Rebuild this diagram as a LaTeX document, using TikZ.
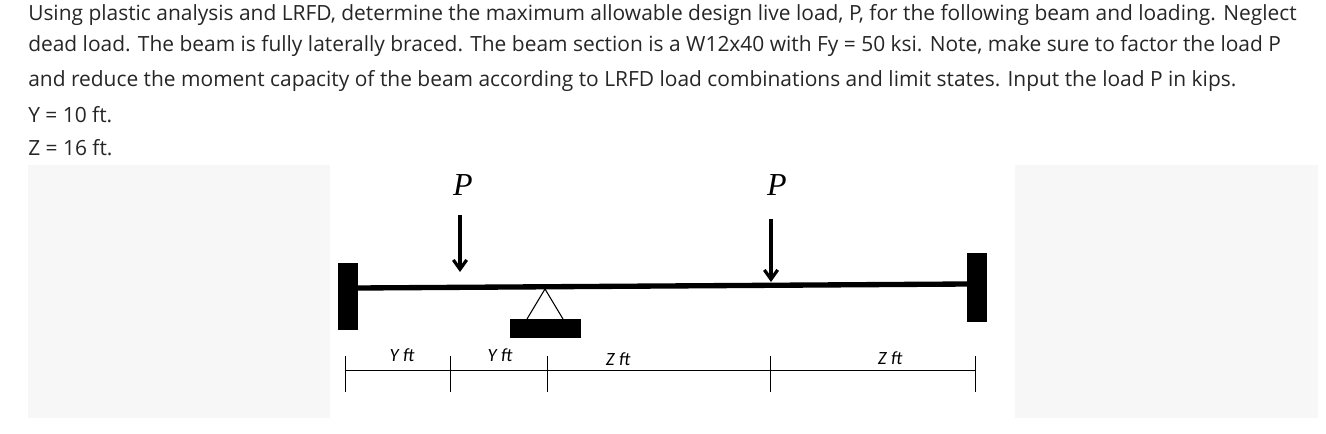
\documentclass[tikz,border=0pt]{standalone}
\usepackage{fontspec}
\usetikzlibrary{arrows.meta}
\setmainfont{Open Sans}
\newfontfamily\dimfont{Carlito}
\newfontfamily\pfont{Liberation Serif}
\begin{document}
\begin{tikzpicture}[x=0.75pt,y=-0.75pt,
  txt/.style={anchor=west,inner sep=0pt,font=\fontsize{15.7}{18}\selectfont,text=black!85},
  dimlbl/.style={font=\dimfont\itshape\fontsize{14}{16}\selectfont,inner sep=0pt},
  plbl/.style={font=\pfont\itshape\fontsize{24}{26}\selectfont},
  load/.style={line width=2.4pt,-{Straight Barb[length=7pt,width=10pt,line width=2.4pt]}},
  tick/.style={line width=0.6pt}]
\useasboundingbox (0,0) rectangle (1326,434);
\fill[white] (0,0) rectangle (1326,434);
\node[txt] (l1) at (28,15) {Using plastic analysis and LRFD, determine the maximum allowable design live load, P, for the following beam and loading. Neglect};
\node[txt] (l2) at (28,46) {dead load. The beam is fully laterally braced. The beam section is a W12x40 with Fy = 50 ksi. Note, make sure to factor the load P};
\node[txt] (l3) at (28,81) {and reduce the moment capacity of the beam according to LRFD load combinations and limit states. Input the load P in kips.};
\node[txt] (l4) at (28,115) {Y = 10 ft.};
\node[txt] (l5) at (28,148) {Z = 16 ft.};
\fill[black!3] (28,165) rectangle (330,418);
\fill[black!3] (1015,165) rectangle (1318,418);
% beam
\coordinate (bl) at (358,288);
\coordinate (br) at (968,284);
\draw[line width=4pt] (bl) -- (br);
\fill (338,263) rectangle (358,330);
\fill (967,253) rectangle (987,322);
% support
\coordinate (apex) at (545,289);
\draw[line width=0.8pt] (527,319) -- (apex) -- (563,319);
\fill (510,319) rectangle (581,338);
% loads
\node[plbl] (p1) at (463,185) {P};
\node[plbl] (p2) at (777,185) {P};
\coordinate (a1) at (460,272);
\coordinate (a2) at (771,282);
\draw[load] (460,215) -- (a1);
\draw[load] (771,219) -- (a2);
% dimensions
\coordinate (d0) at (345,370); \coordinate (d1) at (450,370);
\coordinate (d2) at (547,370); \coordinate (d3) at (770,370);
\coordinate (d4) at (975,370);
\draw[tick] (d0) -- (d4);
\foreach \x in {345,450,547,770,975}{\draw[tick] (\x,356) -- (\x,392);}
\node[dimlbl] (y1) at (402,355) {Y ft};
\node[dimlbl] (y2) at (500,355) {Y ft};
\node[dimlbl] (z1) at (618,359) {Z ft};
\node[dimlbl] (z2) at (890,358) {Z ft};
\end{tikzpicture}
\end{document}
